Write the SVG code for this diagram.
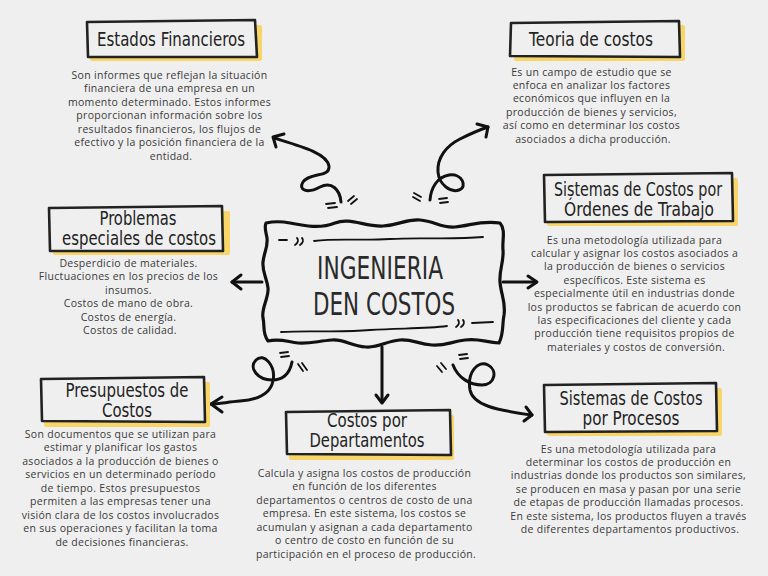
<svg xmlns="http://www.w3.org/2000/svg" width="768" height="576" viewBox="0 0 768 576">
<style>
.bg{fill:#efefef}
.sh{fill:#f8d568}
.bx{fill:#efefef;stroke:#222;stroke-width:2.6;stroke-linejoin:round}
.tt{font-family:"DejaVu Sans",sans-serif;font-size:19px;fill:#222;text-anchor:middle}
.bd{font-family:"Open Sans","Noto Sans",sans-serif;font-size:10.5px;fill:#3a3a3a;text-anchor:middle;letter-spacing:0.3px}
.ln{fill:none;stroke:#111;stroke-width:3;stroke-linecap:round;stroke-linejoin:round}
.th{fill:none;stroke:#111;stroke-width:1.8;stroke-linecap:round}
.ct{font-family:"DejaVu Sans",sans-serif;font-size:32px;fill:#2a2a2a;text-anchor:middle}
</style>
<rect class="bg" x="0" y="0" width="768" height="576"/>

<g id="connectors">
  <path class="ln" d="M262,282 L232,282"/>
  <path class="ln" d="M241,275 L232,282 L241,289"/>
  <path class="ln" d="M503,282 L536,282"/>
  <path class="ln" d="M528,276 L537,282 L528,288"/>
  <path class="ln" d="M382,347 L382,402"/>
  <path class="ln" d="M376,395 L382,403 L388,395"/>
  <path class="ln" d="M341,202 C340,190 332,181 320,187 C307,194 298,190 303,182 C310,172 330,178 329,166 C327,153 300,146 274,138"/>
  <path class="ln" d="M284,134 L273,137 L276,147"/>
  <path class="th" d="M326,204 L335,203 M328,208 L337,207 M348,201 L354,196 M351,204 L357,199"/>
  <path class="ln" d="M430,200 C431,188 437,177 449,175 C462,173 468,187 459,190 C450,193 439,184 438,172 C437,158 446,146 460,139 C470,134 479,130 488,127"/>
  <path class="ln" d="M477,124 L488,127 L486,137"/>
  <path class="th" d="M414,193 L421,197 M413,197 L420,201 M439,199 L447,198 M440,203 L448,202"/>
  <path class="ln" d="M292,362 C290,372 284,380 272,380 C258,380 248,368 256,360 C264,352 276,366 273,381 C270,395 255,400 240,401 C228,402 218,404 211,404"/>
  <path class="ln" d="M222,397 L211,404 L222,412"/>
  <path class="th" d="M280,353 L288,352 M281,357 L289,356 M298,364 L303,371 M302,363 L307,370"/>
  <path class="ln" d="M453,365 C458,378 470,385 482,385 C495,385 498,370 488,365 C478,360 467,372 470,390 C473,405 495,410 532,415"/>
  <path class="ln" d="M526,407 L532,415 L524,421"/>
  <path class="th" d="M459,355 L467,354 M460,359 L468,358 M441,363 L446,369 M437,366 L442,372"/>
</g>

<g id="center">
  <path d="M266,223 C275,221 280,221 290,223 C305,226 320,229 335,223 C350,217 365,227 383,226 C400,225 405,219 420,220 C435,221 440,228 455,227 C470,226 480,220 500,223 C506,230 502,240 503,250 C504,262 499,270 500,282 C501,295 506,302 504,315 C502,325 504,333 499,343 C485,342 478,338 465,340 C450,342 445,346 432,345 C418,344 412,339 400,340 C385,341 380,348 366,347 C350,346 345,339 332,340 C318,341 310,344 298,343 C288,342 280,338 268,341 C262,333 265,326 263,318 C261,308 269,298 268,288 C267,278 262,272 263,262 C264,252 268,248 267,238 C266,232 264,228 266,223 Z" fill="#efefef" stroke="#111" stroke-width="3.2" stroke-linejoin="round"/>
  <path class="th" d="M279,240 L287,240 M297,238 C299,240 298,243 295,245 M302,238 C304,240 303,243 300,245"/>
  <path class="th" d="M314,241 C340,238 360,241 390,239 C420,237 450,240 483,237"/>
  <path class="th" d="M281,332 C310,330 340,333 370,330 C400,328 425,329 447,326"/>
  <path class="th" d="M458,320 C460,322 459,325 456,327 M463,320 C465,322 464,325 461,327 M472,323 L493,322"/>
  <text class="ct" x="380" y="279" textLength="126" lengthAdjust="spacingAndGlyphs">INGENIERIA</text>
  <text class="ct" x="384" y="315" textLength="142" lengthAdjust="spacingAndGlyphs">DEN COSTOS</text>
</g>

<g id="estados">
  <rect class="sh" x="90" y="25" width="172" height="36" rx="2"/>
  <path class="bx" d="M87,22 L255,20 L257,57 L88,57 Z"/>
  <text class="tt" x="171" y="46" textLength="148" lengthAdjust="spacingAndGlyphs">Estados Financieros</text>
  <text class="bd" y="78.5">
    <tspan x="171">Son informes que reflejan la situación</tspan>
    <tspan x="171" dy="13.5">financiera de una empresa en un</tspan>
    <tspan x="171" dy="13.5">momento determinado. Estos informes</tspan>
    <tspan x="171" dy="13.5">proporcionan información sobre los</tspan>
    <tspan x="171" dy="13.5">resultados financieros, los flujos de</tspan>
    <tspan x="171" dy="13.5">efectivo y la posición financiera de la</tspan>
    <tspan x="171" dy="13.5">entidad.</tspan>
  </text>
</g>

<g id="teoria">
  <rect class="sh" x="514" y="25" width="171" height="36" rx="2"/>
  <path class="bx" d="M511,23 L679,21 L680,57 L510,56 Z"/>
  <text class="tt" x="591" y="46" textLength="124" lengthAdjust="spacingAndGlyphs">Teoria de costos</text>
  <text class="bd" y="75.5">
    <tspan x="593">Es un campo de estudio que se</tspan>
    <tspan x="593" dy="13.4">enfoca en analizar los factores</tspan>
    <tspan x="593" dy="13.4">económicos que influyen en la</tspan>
    <tspan x="593" dy="13.4">producción de bienes y servicios,</tspan>
    <tspan x="593" dy="13.4">así como en determinar los costos</tspan>
    <tspan x="593" dy="13.4">asociados a dicha producción.</tspan>
  </text>
</g>

<g id="ordenes">
  <rect class="sh" x="547" y="178" width="191" height="48" rx="2"/>
  <path class="bx" d="M544,175 L732,173 L733,221 L545,222 Z"/>
  <text class="tt" x="638" y="196" textLength="168" lengthAdjust="spacingAndGlyphs">Sistemas de Costos por</text>
  <text class="tt" x="639" y="216" textLength="150" lengthAdjust="spacingAndGlyphs">Órdenes de Trabajo</text>
  <text class="bd" y="243.5">
    <tspan x="636">Es una metodología utilizada para</tspan>
    <tspan x="636" dy="13.4">calcular y asignar los costos asociados a</tspan>
    <tspan x="636" dy="13.4">la producción de bienes o servicios</tspan>
    <tspan x="636" dy="13.4">específicos. Este sistema es</tspan>
    <tspan x="636" dy="13.4">especialmente útil en industrias donde</tspan>
    <tspan x="636" dy="13.4">los productos se fabrican de acuerdo con</tspan>
    <tspan x="636" dy="13.4">las especificaciones del cliente y cada</tspan>
    <tspan x="636" dy="13.4">producción tiene requisitos propios de</tspan>
    <tspan x="636" dy="13.4">materiales y costos de conversión.</tspan>
  </text>
</g>

<g id="problemas">
  <rect class="sh" x="53" y="211" width="177" height="44" rx="2"/>
  <path class="bx" d="M49,208 L222,206 L223,251 L50,251 Z"/>
  <text class="tt" x="138" y="225" textLength="77" lengthAdjust="spacingAndGlyphs">Problemas</text>
  <text class="tt" x="139" y="245" textLength="154" lengthAdjust="spacingAndGlyphs">especiales de costos</text>
  <text class="bd" y="266.5">
    <tspan x="130">Desperdicio de materiales.</tspan>
    <tspan x="130" dy="13.5">Fluctuaciones en los precios de los</tspan>
    <tspan x="130" dy="13.5">insumos.</tspan>
    <tspan x="130" dy="13.5">Costos de mano de obra.</tspan>
    <tspan x="130" dy="13.5">Costos de energía.</tspan>
    <tspan x="130" dy="13.5">Costos de calidad.</tspan>
  </text>
</g>

<g id="presupuestos">
  <rect class="sh" x="44" y="382" width="166" height="45" rx="2"/>
  <path class="bx" d="M41,379 L204,377 L205,422 L42,421 Z"/>
  <text class="tt" x="127" y="397" textLength="123" lengthAdjust="spacingAndGlyphs">Presupuestos de</text>
  <text class="tt" x="127" y="417" textLength="50" lengthAdjust="spacingAndGlyphs">Costos</text>
  <text class="bd" y="437.5">
    <tspan x="122">Son documentos que se utilizan para</tspan>
    <tspan x="122" dy="13.5">estimar y planificar los gastos</tspan>
    <tspan x="122" dy="13.5">asociados a la producción de bienes o</tspan>
    <tspan x="122" dy="13.5">servicios en un determinado período</tspan>
    <tspan x="122" dy="13.5">de tiempo. Estos presupuestos</tspan>
    <tspan x="122" dy="13.5">permiten a las empresas tener una</tspan>
    <tspan x="122" dy="13.5">visión clara de los costos involucrados</tspan>
    <tspan x="122" dy="13.5">en sus operaciones y facilitan la toma</tspan>
    <tspan x="122" dy="13.5">de decisiones financieras.</tspan>
  </text>
</g>

<g id="departamentos">
  <rect class="sh" x="289" y="415" width="165" height="45" rx="2"/>
  <path class="bx" d="M286,412 L450,410 L451,455 L287,454 Z"/>
  <text class="tt" x="367" y="427" textLength="80" lengthAdjust="spacingAndGlyphs">Costos por</text>
  <text class="tt" x="367" y="447" textLength="115" lengthAdjust="spacingAndGlyphs">Departamentos</text>
  <text class="bd" y="476.5">
    <tspan x="366">Calcula y asigna los costos de producción</tspan>
    <tspan x="366" dy="13.5">en función de los diferentes</tspan>
    <tspan x="366" dy="13.5">departamentos o centros de costo de una</tspan>
    <tspan x="366" dy="13.5">empresa. En este sistema, los costos se</tspan>
    <tspan x="366" dy="13.5">acumulan y asignan a cada departamento</tspan>
    <tspan x="366" dy="13.5">o centro de costo en función de su</tspan>
    <tspan x="366" dy="13.5">participación en el proceso de producción.</tspan>
  </text>
</g>

<g id="procesos">
  <rect class="sh" x="547" y="388" width="175" height="48" rx="2"/>
  <path class="bx" d="M544,385 L716,383 L717,431 L545,432 Z"/>
  <text class="tt" x="631" y="405" textLength="143" lengthAdjust="spacingAndGlyphs">Sistemas de Costos</text>
  <text class="tt" x="631" y="425" textLength="97" lengthAdjust="spacingAndGlyphs">por Procesos</text>
  <text class="bd" y="452.5">
    <tspan x="630">Es una metodología utilizada para</tspan>
    <tspan x="630" dy="13.4">determinar los costos de producción en</tspan>
    <tspan x="630" dy="13.4">industrias donde los productos son similares,</tspan>
    <tspan x="630" dy="13.4">se producen en masa y pasan por una serie</tspan>
    <tspan x="630" dy="13.4">de etapas de producción llamadas procesos.</tspan>
    <tspan x="630" dy="13.4">En este sistema, los productos fluyen a través</tspan>
    <tspan x="630" dy="13.4">de diferentes departamentos productivos.</tspan>
  </text>
</g>
</svg>
